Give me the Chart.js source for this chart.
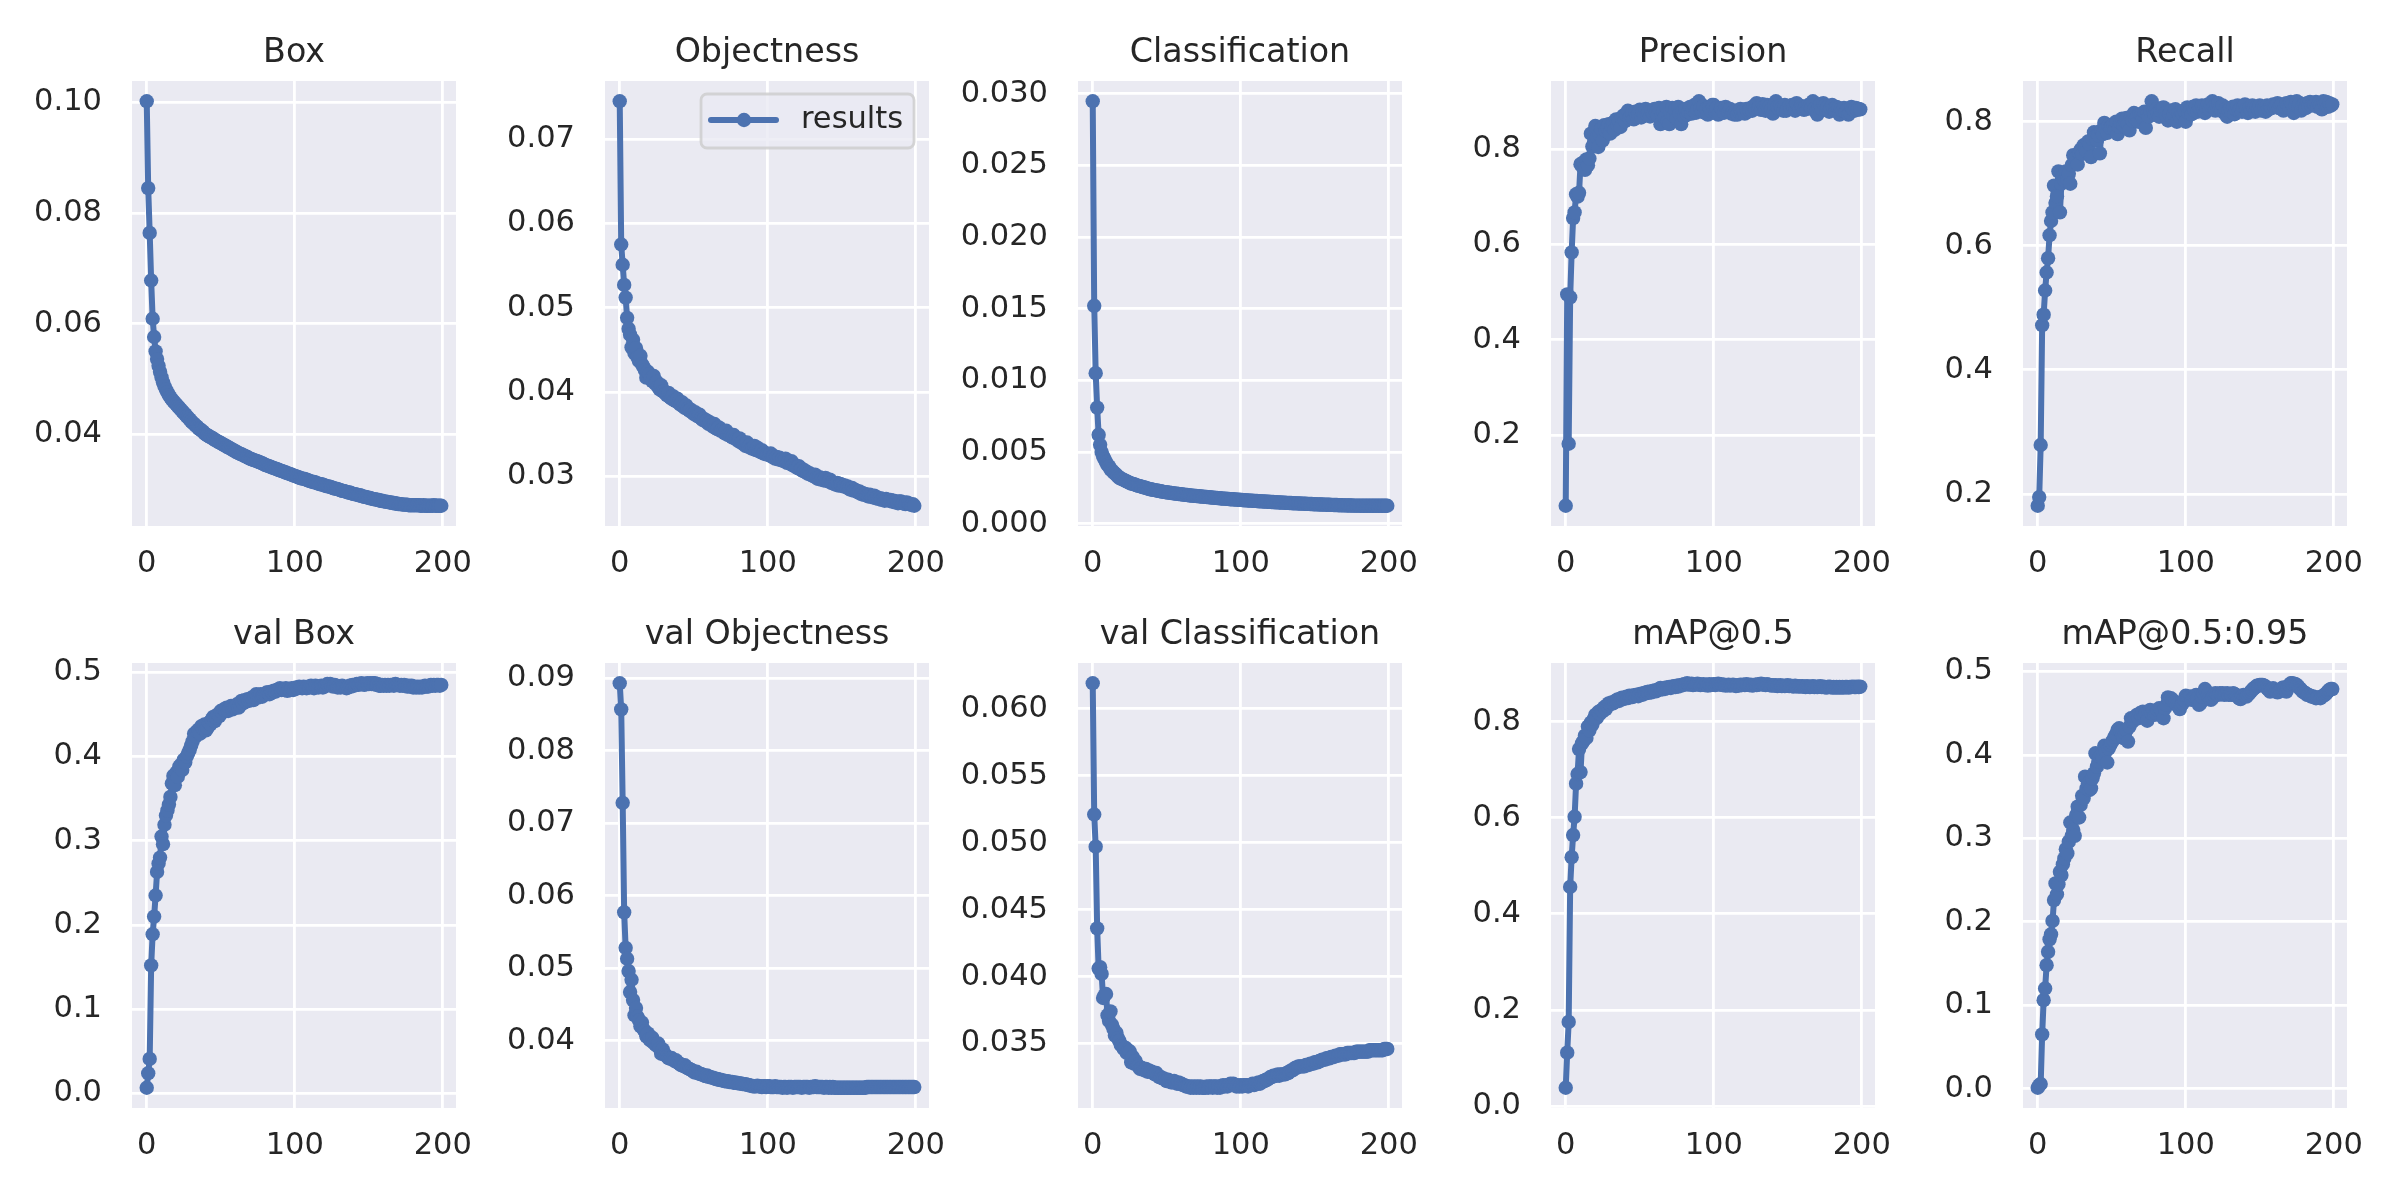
<!DOCTYPE html>
<html>
<head>
<meta charset="utf-8">
<title>results</title>
<script src="https://cdn.jsdelivr.net/npm/chart.js@4.4.1/dist/chart.umd.min.js"></script>
<style>
    html, body { margin: 0; padding: 0; background: #ffffff; }
    #figure { position: relative; width: 2400px; height: 1200px; background: #ffffff; overflow: hidden; }
    #figure canvas { position: absolute; }
</style>
</head>
<body>
<div id="figure"></div>
<script>
const epochs = Array.from({ length: 200 }, (_, i) => i);
const xTicks = [0, 100, 200];

const boxLoss = [
    .1002, .0845, .0764, .0678, .0609, .0576, .0550, .0536, .0524, .0513,
    .0503, .0494, .0487, .0481, .0476, .0471, .0467, .0463, .0460, .0457,
    .0454, .0451, .0448, .0445, .0442, .0439, .0436, .0433, .0430, .0427,
    .0424, .0421, .0419, .0416, .0414, .0411, .0409, .0407, .0405, .0402,
    .0400, .0398, .0397, .0395, .0394, .0392, .0390, .0389, .0387, .0386,
    .0384, .0383, .0381, .0380, .0378, .0377, .0375, .0374, .0372, .0371,
    .0369, .0368, .0366, .0365, .0364, .0363, .0361, .0360, .0359, .0357,
    .0356, .0355, .0354, .0353, .0352, .0351, .0350, .0349, .0348, .0346,
    .0345, .0344, .0343, .0342, .0341, .0340, .0339, .0338, .0337, .0336,
    .0335, .0334, .0333, .0332, .0331, .0330, .0329, .0328, .0327, .0326,
    .0325, .0324, .0323, .0322, .0321, .0320, .0320, .0319, .0318, .0317,
    .0316, .0315, .0314, .0314, .0313, .0312, .0311, .0310, .0310, .0309,
    .0308, .0307, .0306, .0306, .0305, .0304, .0303, .0302, .0302, .0301,
    .0300, .0299, .0298, .0298, .0297, .0296, .0295, .0295, .0294, .0293,
    .0292, .0292, .0291, .0290, .0290, .0289, .0288, .0287, .0287, .0286,
    .0285, .0285, .0284, .0283, .0283, .0282, .0282, .0281, .0280, .0280,
    .0279, .0279, .0278, .0278, .0277, .0277, .0276, .0276, .0275, .0275,
    .0274, .0274, .0274, .0273, .0273, .0273, .0273, .0272, .0272, .0272,
    .0272, .0272, .0272, .0272, .0272, .0271, .0271, .0272, .0271, .0271,
    .0271, .0271, .0271, .0271, .0272, .0271, .0271, .0271, .0271, .0271
];

const objLoss = [
    .0745, .0575, .0551, .0527, .0512, .0488, .0475, .0468, .0453, .0462,
    .0446, .0452, .0441, .0437, .0443, .0433, .0430, .0426, .0417, .0424,
    .0421, .0416, .0413, .0419, .0410, .0412, .0406, .0403, .0408, .0401,
    .0401, .0398, .0396, .0399, .0394, .0392, .0395, .0390, .0389, .0392,
    .0387, .0385, .0388, .0383, .0381, .0384, .0380, .0378, .0379, .0376,
    .0374, .0376, .0372, .0371, .0373, .0369, .0367, .0368, .0365, .0366,
    .0362, .0364, .0361, .0359, .0362, .0357, .0356, .0358, .0354, .0355,
    .0353, .0351, .0354, .0349, .0350, .0348, .0346, .0349, .0345, .0344,
    .0342, .0345, .0340, .0341, .0338, .0336, .0340, .0335, .0337, .0333,
    .0333, .0336, .0331, .0334, .0330, .0329, .0331, .0327, .0328, .0326,
    .0326, .0325, .0327, .0323, .0324, .0321, .0323, .0320, .0322, .0319,
    .0320, .0318, .0321, .0316, .0317, .0315, .0318, .0313, .0314, .0311,
    .0310, .0312, .0308, .0309, .0306, .0307, .0305, .0303, .0304, .0302,
    .0301, .0300, .0302, .0298, .0297, .0299, .0296, .0297, .0295, .0298,
    .0295, .0294, .0296, .0292, .0293, .0291, .0290, .0292, .0289, .0291,
    .0290, .0288, .0289, .0287, .0288, .0285, .0284, .0286, .0283, .0284,
    .0283, .0281, .0282, .0279, .0280, .0278, .0279, .0277, .0276, .0278,
    .0276, .0275, .0277, .0274, .0275, .0273, .0274, .0272, .0273, .0271,
    .0273, .0272, .0271, .0272, .0270, .0271, .0269, .0270, .0268, .0270,
    .0270, .0268, .0269, .0267, .0269, .0268, .0267, .0266, .0267, .0265
];

const clsLoss = [
    .02947, .0152, .0105, .0081, .0062, .0055, .0050, .0047, .0045, .0043,
    .0041, .0040, .0038, .0037, .0036, .0035, .0034, .0033, .0032, .00315,
    .0031, .00305, .0030, .00295, .0029, .00285, .0028, .00278, .00275, .0027,
    .00267, .00264, .00261, .00258, .00255, .00252, .00249, .00246, .00243, .0024,
    .00238, .00236, .00234, .00232, .0023, .00228, .00226, .00224, .00222, .0022,
    .00219, .00217, .00216, .00214, .00213, .00211, .0021, .00209, .00207, .00206,
    .00205, .00203, .00202, .00201, .002, .00198, .00197, .00196, .00195, .00194,
    .00193, .00192, .00191, .0019, .00189, .00188, .00187, .00186, .00185, .00184,
    .00183, .00182, .00181, .0018, .00179, .00178, .00177, .00176, .00175, .00175,
    .00174, .00173, .00172, .00171, .0017, .0017, .00169, .00168, .00167, .00167,
    .00166, .00165, .00164, .00164, .00163, .00162, .00161, .00161, .0016, .00159,
    .00159, .00158, .00157, .00157, .00156, .00155, .00155, .00154, .00153, .00153,
    .00152, .00151, .00151, .0015, .0015, .00149, .00148, .00148, .00147, .00147,
    .00146, .00145, .00145, .00144, .00144, .00143, .00143, .00142, .00142, .00141,
    .00141, .0014, .0014, .00139, .00139, .00138, .00138, .00137, .00137, .00136,
    .00136, .00135, .00135, .00134, .00134, .00134, .00133, .00133, .00132, .00132,
    .00132, .00131, .00131, .0013, .0013, .0013, .00129, .00129, .00129, .00128,
    .00128, .00128, .00127, .00127, .00127, .00127, .00126, .00126, .00126, .00126,
    .00126, .00125, .00125, .00125, .00125, .00125, .00125, .00125, .00125, .00125,
    .00125, .00125, .00125, .00125, .00125, .00125, .00125, .00125, .00125, .00125
];

const precision = [
    .052, .495, .182, .489, .583, .655, .667, .705, .700, .708,
    .768, .764, .772, .756, .778, .766, .780, .832, .805, .812,
    .848, .825, .804, .830, .842, .818, .850, .838, .845, .852,
    .832, .848, .855, .840, .862, .850, .858, .846, .866, .870,
    .858, .872, .880, .864, .870, .876, .862, .878, .868, .874,
    .882, .866, .876, .870, .884, .872, .878, .868, .880, .874,
    .884, .876, .870, .886, .852, .872, .880, .866, .888, .858,
    .852, .876, .886, .870, .882, .864, .888, .874, .852, .880,
    .868, .884, .872, .878, .888, .874, .882, .892, .876, .884,
    .900, .886, .878, .890, .876, .884, .872, .888, .880, .892,
    .892, .878, .886, .872, .874, .886, .880, .876, .888, .882,
    .878, .884, .874, .876, .872, .880, .872, .878, .884, .876,
    .880, .874, .884, .878, .882, .886, .880, .890, .884, .896,
    .886, .890, .882, .894, .888, .880, .892, .886, .890, .884,
    .874, .892, .900, .888, .884, .890, .886, .880, .892, .880,
    .886, .890, .884, .892, .886, .880, .896, .888, .884, .890,
    .886, .882, .888, .884, .892, .890, .886, .900, .884, .878,
    .872, .888, .894, .884, .896, .890, .882, .888, .878, .886,
    .892, .884, .880, .888, .886, .872, .884, .880, .886, .878,
    .882, .872, .876, .888, .884, .880, .886, .882, .884, .883
];

const recall = [
    .181, .195, .279, .472, .489, .528, .557, .580, .617, .640,
    .654, .697, .669, .680, .720, .654, .700, .712, .706, .720,
    .708, .716, .700, .730, .746, .738, .742, .731, .750, .755,
    .748, .762, .758, .752, .768, .764, .743, .772, .783, .776,
    .770, .778, .749, .786, .780, .798, .788, .782, .794, .790,
    .792, .796, .786, .800, .780, .792, .798, .805, .794, .800,
    .806, .796, .786, .808, .802, .814, .804, .808, .800, .812,
    .810, .806, .816, .790, .812, .808, .818, .833, .816, .812,
    .820, .814, .808, .818, .822, .823, .814, .808, .802, .812,
    .818, .806, .812, .820, .800, .814, .808, .816, .812, .818,
    .800, .823, .814, .820, .812, .824, .818, .826, .816, .822,
    .820, .826, .818, .814, .822, .828, .820, .826, .833, .824,
    .818, .826, .830, .822, .818, .826, .814, .820, .808, .818,
    .822, .816, .824, .812, .820, .826, .818, .822, .816, .824,
    .828, .820, .814, .822, .818, .826, .822, .816, .824, .820,
    .826, .818, .824, .822, .816, .826, .820, .824, .822, .828,
    .824, .826, .830, .822, .826, .828, .818, .824, .830, .826,
    .822, .832, .828, .814, .826, .833, .824, .830, .818, .826,
    .828, .822, .830, .826, .832, .826, .830, .828, .832, .824,
    .830, .826, .820, .833, .828, .832, .824, .830, .826, .828
];

const valBoxLoss = [
    .0068, .024, .041, .152, .189, .210, .235, .263, .273, .280,
    .305, .296, .319, .330, .336, .343, .352, .368, .377, .366,
    .381, .376, .388, .390, .384, .396, .393, .400, .404, .408,
    .413, .418, .427, .424, .430, .432, .427, .436, .433, .438,
    .431, .434, .440, .438, .444, .447, .442, .446, .450, .448,
    .454, .452, .456, .455, .458, .454, .457, .460, .456, .458,
    .459, .462, .458, .461, .466, .463, .467, .465, .468, .466,
    .468, .470, .467, .471, .474, .470, .472, .474, .471, .473,
    .474, .476, .476, .474, .477, .476, .478, .477, .479, .480,
    .481, .479, .480, .479, .481, .478, .480, .479, .481, .479,
    .480, .482, .481, .483, .482, .481, .483, .482, .481, .483,
    .482, .484, .483, .481, .484, .483, .482, .483, .484, .482,
    .483, .484, .486, .485, .486, .484, .483, .485, .484, .482,
    .483, .482, .484, .483, .482, .481, .482, .484, .483, .485,
    .484, .485, .486, .485, .486, .487, .486, .485, .486, .487,
    .486, .487, .486, .487, .487, .485, .486, .484, .484, .485,
    .484, .485, .484, .485, .484, .485, .485, .484, .486, .485,
    .485, .484, .485, .484, .485, .484, .483, .484, .483, .484,
    .482, .483, .482, .483, .482, .483, .482, .483, .484, .483,
    .483, .484, .485, .484, .485, .484, .485, .485, .484, .485
];

const valObjLoss = [
    .0893, .0857, .0728, .0577, .0528, .0513, .0496, .0467, .0484, .0456,
    .0435, .0445, .0433, .0428, .0420, .0425, .0416, .0413, .0406, .0410,
    .0402, .0400, .0404, .0397, .0395, .0393, .0396, .0389, .0382, .0388,
    .0383, .0380, .0378, .0376, .0375, .0376, .0374, .0372, .0373, .0370,
    .0369, .0367, .0366, .0365, .0366, .0363, .0362, .0361, .0360, .0359,
    .0357, .0356, .0357, .0355, .0354, .0354, .0353, .0352, .0351, .0352,
    .0350, .0350, .0349, .0349, .0348, .0347, .0347, .0346, .0346, .0345,
    .0345, .0344, .0344, .0344, .0343, .0343, .0343, .0342, .0342, .0342,
    .0341, .0341, .0341, .0340, .0340, .0340, .0339, .0339, .0338, .0338,
    .0337, .0337, .0337, .0338, .0337, .0337, .0336, .0337, .0337, .0336,
    .0337, .0337, .0336, .0336, .0336, .0337, .0336, .0336, .0336, .0336,
    .0335, .0336, .0336, .0335, .0336, .0336, .0336, .0335, .0336, .0336,
    .0336, .0336, .0336, .0335, .0336, .0336, .0336, .0336, .0335, .0336,
    .0336, .0336, .0337, .0336, .0336, .0336, .0336, .0336, .0335, .0336,
    .0336, .0335, .0336, .0335, .0336, .0335, .0335, .0335, .0335, .0335,
    .0335, .0335, .0335, .0335, .0335, .0335, .0335, .0335, .0335, .0335,
    .0335, .0335, .0335, .0335, .0335, .0335, .0335, .0336, .0336, .0336,
    .0336, .0336, .0336, .0336, .0336, .0336, .0336, .0336, .0336, .0336,
    .0336, .0336, .0336, .0336, .0336, .0336, .0336, .0336, .0336, .0336,
    .0336, .0336, .0336, .0336, .0336, .0336, .0336, .0336, .0336, .0336
];

const valClsLoss = [
    .0619, .0521, .0497, .0436, .0406, .0407, .0402, .0384, .0386, .0387,
    .0371, .0367, .0374, .0364, .0361, .0356, .0358, .0354, .0352, .0349,
    .0348, .0346, .0347, .0343, .0345, .0344, .0336, .0340, .0335, .0337,
    .0334, .0333, .0331, .0332, .0331, .0330, .0331, .0329, .0330, .0329,
    .0329, .0328, .0327, .0328, .0326, .0325, .0325, .0324, .0324, .0323,
    .0322, .0323, .0322, .0321, .0321, .0322, .0321, .0320, .0321, .0320,
    .0320, .0319, .0319, .0318, .0318, .0318, .0317, .0318, .0317, .0318,
    .0317, .0318, .0317, .0318, .0317, .0317, .0317, .0318, .0317, .0318,
    .0318, .0317, .0318, .0318, .0317, .0318, .0317, .0318, .0319, .0318,
    .0319, .0318, .0319, .0320, .0319, .0320, .0319, .0318, .0319, .0318,
    .0319, .0318, .0319, .0319, .0319, .0318, .0319, .0319, .0320, .0319,
    .0320, .0320, .0321, .0320, .0321, .0322, .0322, .0323, .0323, .0324,
    .0325, .0325, .0326, .0326, .0326, .0327, .0326, .0327, .0327, .0327,
    .0327, .0328, .0328, .0329, .0330, .0330, .0331, .0332, .0332, .0333,
    .0333, .0333, .0333, .0333, .0334, .0334, .0334, .0335, .0335, .0335,
    .0336, .0336, .0336, .0337, .0337, .0338, .0338, .0338, .0339, .0339,
    .0339, .0340, .0340, .0340, .0341, .0341, .0341, .0342, .0342, .0342,
    .0342, .0342, .0343, .0343, .0343, .0343, .0343, .0343, .0344, .0344,
    .0344, .0344, .0344, .0344, .0344, .0344, .0344, .0345, .0345, .0345,
    .0345, .0345, .0345, .0345, .0345, .0345, .0345, .0346, .0346, .0346
];

const map50 = [
    .038, .111, .175, .456, .518, .564, .602, .671, .691, .743,
    .695, .755, .760, .771, .766, .790, .782, .798, .794, .806,
    .814, .808, .820, .816, .824, .822, .830, .826, .834, .838,
    .836, .840, .838, .842, .844, .846, .843, .848, .850, .847,
    .850, .852, .849, .854, .853, .851, .855, .854, .856, .853,
    .857, .858, .856, .860, .859, .862, .860, .863, .861, .864,
    .865, .863, .866, .868, .870, .867, .869, .868, .871, .870,
    .872, .870, .873, .874, .872, .875, .873, .876, .875, .877,
    .878, .877, .880, .878, .877, .879, .876, .878, .877, .879,
    .878, .876, .877, .878, .876, .877, .875, .878, .876, .877,
    .878, .876, .878, .879, .877, .878, .876, .877, .875, .876,
    .877, .875, .876, .877, .876, .874, .876, .875, .877, .876,
    .877, .876, .878, .877, .876, .877, .875, .876, .877, .876,
    .878, .877, .879, .878, .877, .876, .878, .877, .876, .875,
    .876, .875, .876, .874, .875, .876, .874, .875, .874, .875,
    .876, .874, .875, .874, .873, .875, .874, .873, .874, .873,
    .874, .873, .872, .874, .873, .872, .873, .874, .872, .873,
    .872, .873, .874, .872, .873, .872, .871, .872, .873, .872,
    .871, .872, .871, .872, .871, .872, .871, .872, .871, .872,
    .872, .871, .872, .872, .873, .872, .872, .873, .872, .873
];

const map5095 = [
    .001, .004, .0055, .065, .106, .120, .148, .164, .179, .185,
    .201, .226, .246, .233, .245, .260, .256, .269, .276, .287,
    .282, .296, .319, .303, .310, .303, .328, .338, .325, .340,
    .351, .348, .374, .360, .366, .358, .360, .372, .378, .402,
    .386, .392, .398, .400, .396, .411, .404, .391, .408, .412,
    .415, .418, .422, .425, .430, .432, .428, .424, .420, .426,
    .430, .416, .434, .444, .440, .442, .446, .448, .444, .450,
    .448, .452, .446, .450, .441, .452, .454, .450, .452, .448,
    .450, .454, .456, .455, .452, .444, .456, .460, .469, .466,
    .468, .466, .464, .462, .460, .458, .455, .460, .462, .466,
    .471, .468, .469, .470, .466, .468, .470, .472, .468, .460,
    .462, .470, .474, .479, .476, .472, .468, .466, .468, .472,
    .474, .473, .472, .474, .473, .474, .472, .473, .474, .472,
    .473, .472, .474, .473, .472, .470, .468, .467, .470, .472,
    .471, .470, .472, .474, .476, .478, .480, .481, .483, .483,
    .484, .484, .484, .483, .482, .480, .478, .476, .478, .480,
    .478, .476, .475, .476, .478, .480, .481, .479, .476, .480,
    .484, .486, .486, .485, .485, .484, .482, .480, .478, .476,
    .475, .474, .472, .472, .471, .470, .470, .469, .468, .469,
    .469, .468, .470, .471, .472, .474, .476, .478, .479, .479
];

const boxTicks = [0.04, 0.06, 0.08, 0.10];
const objTicks = [0.03, 0.04, 0.05, 0.06, 0.07];
const clsTicks = [0, 0.005, 0.010, 0.015, 0.020, 0.025, 0.030];
const precisionTicks = [0.2, 0.4, 0.6, 0.8];
const recallTicks = [0.2, 0.4, 0.6, 0.8];
const valBoxTicks = [0, 0.1, 0.2, 0.3, 0.4, 0.5];
const valObjTicks = [0.04, 0.05, 0.06, 0.07, 0.08, 0.09];
const valClsTicks = [0.035, 0.040, 0.045, 0.050, 0.055, 0.060];
const map50Ticks = [0, 0.2, 0.4, 0.6, 0.8];
const map5095Ticks = [0, 0.1, 0.2, 0.3, 0.4, 0.5];

const panels = [
    { title: 'Box', data: boxLoss, ticks: boxTicks, decimals: 2 },
    { title: 'Objectness', data: objLoss, ticks: objTicks, decimals: 2 },
    { title: 'Classification', data: clsLoss, ticks: clsTicks, decimals: 3 },
    { title: 'Precision', data: precision, ticks: precisionTicks, decimals: 1 },
    { title: 'Recall', data: recall, ticks: recallTicks, decimals: 1 },
    { title: 'val Box', data: valBoxLoss, ticks: valBoxTicks, decimals: 1 },
    { title: 'val Objectness', data: valObjLoss, ticks: valObjTicks, decimals: 2 },
    { title: 'val Classification', data: valClsLoss, ticks: valClsTicks, decimals: 3 },
    { title: 'mAP@0.5', data: map50, ticks: map50Ticks, decimals: 1 },
    { title: 'mAP@0.5:0.95', data: map5095, ticks: map5095Ticks, decimals: 1 }
];

// layout of the 2x5 grid, in page pixels
const plotLefts = [132, 605, 1078, 1551, 2023];
const plotTops = [81, 663];
const plotW = 324, plotH = 445;
const axisW = 125, axisH = 70, padTop = 70, padRight = 40;

const lineColor = '#4C72B0';
const textColor = '#262626';
const fontFamily = '"DejaVu Sans", "Liberation Sans", sans-serif';
const lineWidth = 6;
const markerRadius = 7.2;

Chart.defaults.font.family = fontFamily;
Chart.defaults.color = textColor;

const axesBackground = {
    id: 'axesBackground',
    beforeDraw(chart) {
        const { ctx, chartArea: a } = chart;
        ctx.save();
        ctx.fillStyle = '#EAEAF2';
        ctx.fillRect(a.left, a.top, a.right - a.left, a.bottom - a.top);
        ctx.restore();
    }
};

const panelTitle = {
    id: 'panelTitle',
    afterDraw(chart, args, opts) {
        const { ctx, chartArea: a } = chart;
        ctx.save();
        ctx.font = '33.3px ' + fontFamily;
        ctx.fillStyle = textColor;
        ctx.textAlign = 'center';
        ctx.textBaseline = 'alphabetic';
        ctx.fillText(opts.text, (a.left + a.right) / 2, a.top - 19);
        ctx.restore();
    }
};

const resultsLegend = {
    id: 'resultsLegend',
    afterDraw(chart) {
        const { ctx, chartArea: a } = chart;
        const w = 213, h = 54;
        const x = a.right - 15 - w, y = a.top + 13;
        const cy = y + h / 2 - 1;
        ctx.save();
        ctx.beginPath();
        ctx.roundRect(x, y, w, h, 6);
        ctx.fillStyle = 'rgba(234, 234, 242, 0.8)';
        ctx.fill();
        ctx.lineWidth = 2.8;
        ctx.strokeStyle = 'rgba(204, 204, 204, 0.8)';
        ctx.stroke();
        ctx.beginPath();
        ctx.moveTo(x + 10, cy);
        ctx.lineTo(x + 75, cy);
        ctx.lineWidth = lineWidth;
        ctx.lineCap = 'round';
        ctx.strokeStyle = lineColor;
        ctx.stroke();
        ctx.beginPath();
        ctx.arc(x + 43, cy, markerRadius, 0, Math.PI * 2);
        ctx.fillStyle = lineColor;
        ctx.fill();
        ctx.font = '30.5px ' + fontFamily;
        ctx.fillStyle = textColor;
        ctx.textAlign = 'left';
        ctx.textBaseline = 'middle';
        ctx.fillText('results', x + 100, cy);
        ctx.restore();
    }
};

function createPanel(panel, index) {
    const row = Math.floor(index / 5);
    const col = index % 5;
    const canvas = document.createElement('canvas');
    canvas.width = axisW + plotW + padRight;
    canvas.height = padTop + plotH + axisH;
    canvas.style.left = (plotLefts[col] - axisW) + 'px';
    canvas.style.top = (plotTops[row] - padTop) + 'px';
    document.getElementById('figure').appendChild(canvas);

    const lo = Math.min(...panel.data);
    const hi = Math.max(...panel.data);
    const margin = (hi - lo) * 0.05;
    const plugins = [axesBackground, panelTitle];
    if (index === 1) plugins.push(resultsLegend);

    new Chart(canvas.getContext('2d'), {
        type: 'line',
        data: {
            datasets: [{
                label: 'results',
                data: panel.data.map((v, i) => ({ x: epochs[i], y: v })),
                borderColor: lineColor,
                backgroundColor: lineColor,
                pointBackgroundColor: lineColor,
                borderWidth: lineWidth,
                borderJoinStyle: 'round',
                borderCapStyle: 'round',
                pointRadius: markerRadius,
                pointBorderWidth: 0,
                tension: 0
            }]
        },
        options: {
            responsive: false,
            animation: false,
            devicePixelRatio: 1,
            layout: { padding: { top: padTop, right: padRight, left: 0, bottom: 0 } },
            plugins: {
                legend: { display: false },
                tooltip: { enabled: false },
                panelTitle: { text: panel.title }
            },
            scales: {
                x: {
                    type: 'linear',
                    min: -9.95,
                    max: 208.95,
                    afterBuildTicks: scale => { scale.ticks = xTicks.map(v => ({ value: v })); },
                    afterFit: scale => { scale.height = axisH; },
                    grid: { color: '#ffffff', lineWidth: 2.8, drawTicks: false },
                    border: { display: false },
                    ticks: { autoSkip: false, maxRotation: 0, padding: 20, font: { size: 30.5 }, color: textColor }
                },
                y: {
                    type: 'linear',
                    min: lo - margin,
                    max: hi + margin,
                    afterBuildTicks: scale => { scale.ticks = panel.ticks.map(v => ({ value: v })); },
                    afterFit: scale => { scale.width = axisW; },
                    grid: { color: '#ffffff', lineWidth: 2.8, drawTicks: false },
                    border: { display: false },
                    ticks: {
                        autoSkip: false,
                        padding: 30,
                        font: { size: 30.5 },
                        color: textColor,
                        callback: value => Number(value).toFixed(panel.decimals)
                    }
                }
            }
        },
        plugins: plugins
    });
}

panels.forEach(createPanel);
</script>
</body>
</html>
